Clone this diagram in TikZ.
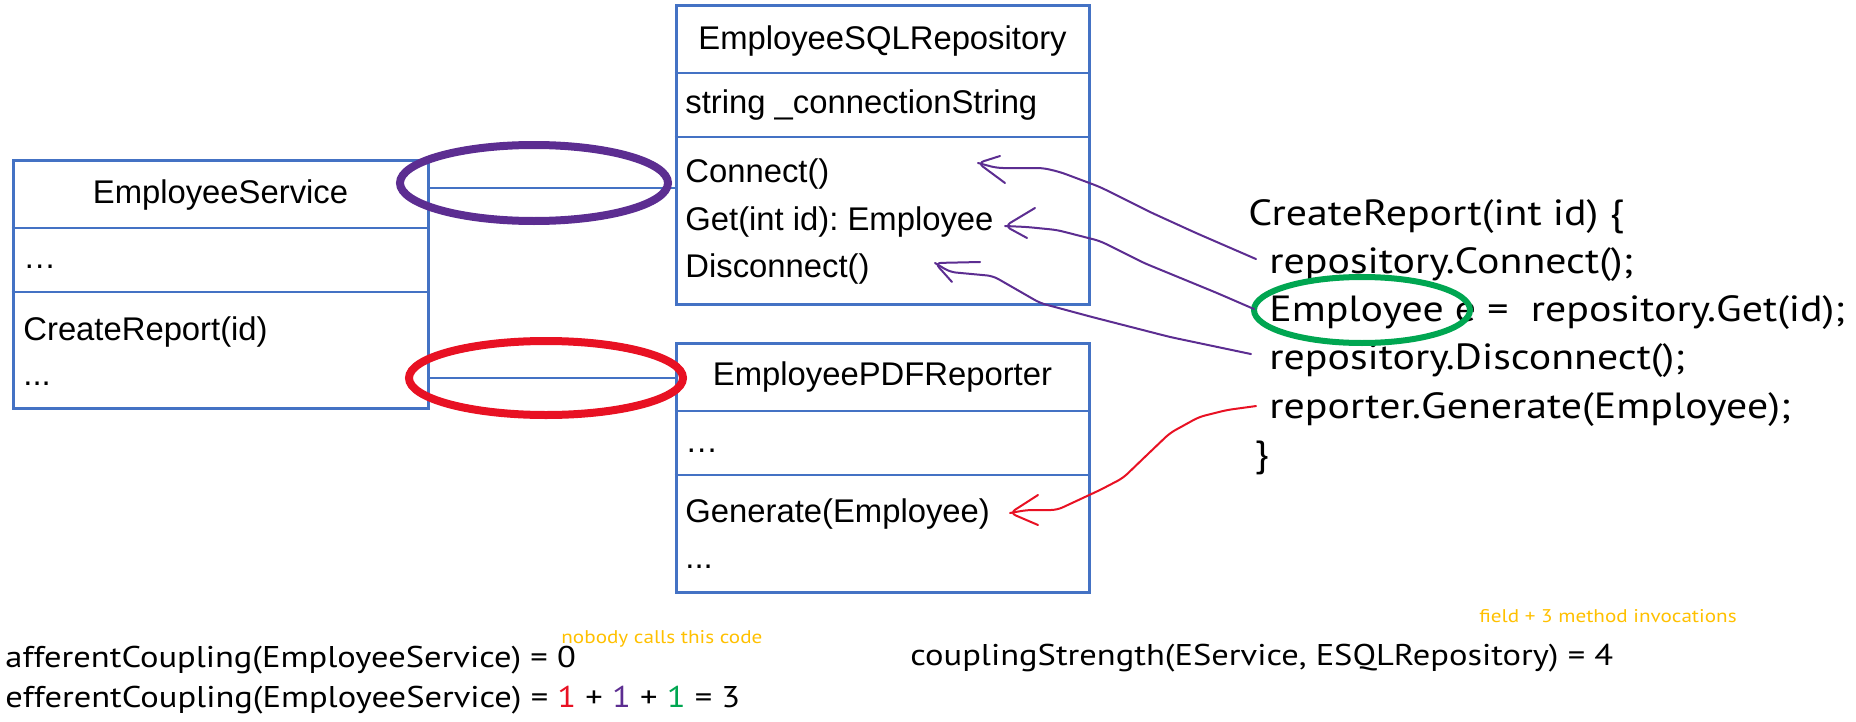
\documentclass[tikz,border=0pt]{standalone}
\usepackage{fontspec}
\setmainfont{Liberation Sans}
\newfontfamily\handfont[FakeStretch=1.15]{PT Sans}
\frenchspacing

\definecolor{umlblue}{RGB}{68,114,196}
\definecolor{penpurple}{RGB}{92,45,145}
\definecolor{penred}{RGB}{232,17,35}
\definecolor{pengreen}{RGB}{0,166,81}
\definecolor{noteorange}{RGB}{255,192,0}

\begin{document}
\begin{tikzpicture}[x=0.5pt,y=-0.5pt,
	uml/.style={inner sep=0pt,anchor=base west,font=\fontsize{16.4}{19}\selectfont},
	umltitle/.style={uml,anchor=base},
	frame/.style={draw=umlblue,line width=1.5pt,inner sep=0pt},
	divider/.style={umlblue,line width=0.8pt},
	link/.style={umlblue,line width=1.3pt},
	code/.style={inner sep=0pt,anchor=base west,font=\handfont\fontsize{18.2}{22}\selectfont},
	formula/.style={code,font=\handfont\fontsize{15}{18}\selectfont},
	note/.style={code,text=noteorange,font=\handfont\fontsize{9.2}{11}\selectfont},
	pen/.style={line width=1pt,line cap=round,line join=round,rounded corners=3pt},
	ring/.style={line width=4pt}]
	\useasboundingbox (0,0) rectangle (1856,722);

	% class boxes
	\node[frame,minimum width=207.5pt,minimum height=124pt] (svc) at (220.5,284) {};
	\node[frame,minimum width=206.5pt,minimum height=149pt] (sql) at (882.5,155) {};
	\node[frame,minimum width=206.5pt,minimum height=124.5pt] (pdf) at (882.5,467.5) {};

	\draw[divider] (svc.west |- 0,228) -- (svc.east |- 0,228);
	\draw[divider] (svc.west |- 0,292) -- (svc.east |- 0,292);
	\draw[divider] (sql.west |- 0,73) -- (sql.east |- 0,73);
	\draw[divider] (sql.west |- 0,137) -- (sql.east |- 0,137);
	\draw[divider] (pdf.west |- 0,411) -- (pdf.east |- 0,411);
	\draw[divider] (pdf.west |- 0,475) -- (pdf.east |- 0,475);

	\node[umltitle] (svcName) at (220.5,203) {EmployeeService};
	\node[uml] (svcField) at (23,268) {…};
	\node[uml] (svcReport) at (23,340) {CreateReport(id)};
	\node[uml] (svcMore) at (23,385) {...};

	\node[umltitle] (sqlName) at (882.5,50) {EmployeeSQLRepository};
	\node[uml] (sqlField) at (685,113) {string \_connectionString};
	\node[uml] (sqlConnect) at (685,182) {Connect()};
	\node[uml] (sqlGet) at (685,230) {Get(int id): Employee};
	\node[uml] (sqlDisconnect) at (685,277) {Disconnect()};

	\node[umltitle] (pdfName) at (882.5,385) {EmployeePDFReporter};
	\node[uml] (pdfField) at (685,452) {…};
	\node[uml] (pdfGenerate) at (685,522) {Generate(Employee)};
	\node[uml] (pdfMore) at (685,568) {...};

	\draw[link] (svc.east |- 0,188) -- (sql.west |- 0,188);
	\draw[link] (svc.east |- 0,378) -- (pdf.west |- 0,378);

	\draw[ring,penpurple] (534,183) ellipse [x radius=67pt,y radius=19pt];
	\draw[ring,penred] (546,378) ellipse [x radius=68.5pt,y radius=18.5pt];

	% code of CreateReport
	\node[code] (cHead) at (1248,225) {CreateReport(int id) \{};
	\node[code] (cConnect) at (1269,273) {repository.Connect();};
	\node[code] (cGet) at (1269,321) {Employee e =\ \ repository.Get(id);};
	\node[code] (cDisconnect) at (1269,369) {repository.Disconnect();};
	\node[code] (cGenerate) at (1269,418) {reporter.Generate(Employee);};
	\node[code] (cEnd) at (1254,466) {\}};

	\draw[ring,line width=3pt,pengreen] (1362,310) ellipse [x radius=54pt,y radius=16.5pt];

	% scribbled calls
	\coordinate (tipConnect) at (978,163);
	\coordinate (tipGet) at (1005,226);
	\coordinate (tipDisc) at (935,263);
	\coordinate (tipGen) at (1010,513);

	\draw[pen,penpurple] ([shift={(-13,-5)}]cConnect.west) -- (1196,233) -- (1150,212) -- (1100,187)
		-- (1060,172) -- (1043,168) -- (997,168) -- (tipConnect);
	\draw[pen,penpurple] ([shift={(22,-7)}]tipConnect) -- (tipConnect) -- ([shift={(27,20)}]tipConnect);

	\draw[pen,penpurple] ([shift={(-15,-3)}]cGet.west) -- (1217,293) -- (1144,263) -- (1100,241)
		-- (1057,230) -- (1027,227) -- (tipGet);
	\draw[pen,penpurple] ([shift={(30,-18)}]tipGet) -- (tipGet) -- ([shift={(22,12)}]tipGet);

	\draw[pen,penpurple] ([shift={(-18,-6)}]cDisconnect.west) -- (1170,337) -- (1092,317) -- (1040,303)
		-- (993,276) -- (950,272) -- (tipDisc);
	\draw[pen,penpurple] ([shift={(45,-1)}]tipDisc) -- (tipDisc) -- ([shift={(17,19)}]tipDisc);

	\draw[pen,penred] ([shift={(-13,-3)}]cGenerate.west) -- (1227,410) -- (1199,417) -- (1170,433)
		-- (1149,453) -- (1123,478) -- (1100,490) -- (1057,510) -- (1027,510) -- (tipGen);
	\draw[pen,penred] ([shift={(28,-18)}]tipGen) -- (tipGen) -- ([shift={(28,12)}]tipGen);

	% metrics
	\node[formula] (afferent) at (5,667) {afferentCoupling(EmployeeService) = 0};
	\node[formula] (efferent) at (5,707) {efferentCoupling(EmployeeService) = \textcolor{penred}{1} + \textcolor{penpurple}{1} + \textcolor{pengreen}{1} = 3};
	\node[formula] (strength) at (910,665) {couplingStrength(EService, ESQLRepository) = 4};
	\node[note] (afferentNote) at (561,643) {nobody calls this code};
	\node[note] (strengthNote) at (1479,622) {field + 3 method invocations};
\end{tikzpicture}
\end{document}
